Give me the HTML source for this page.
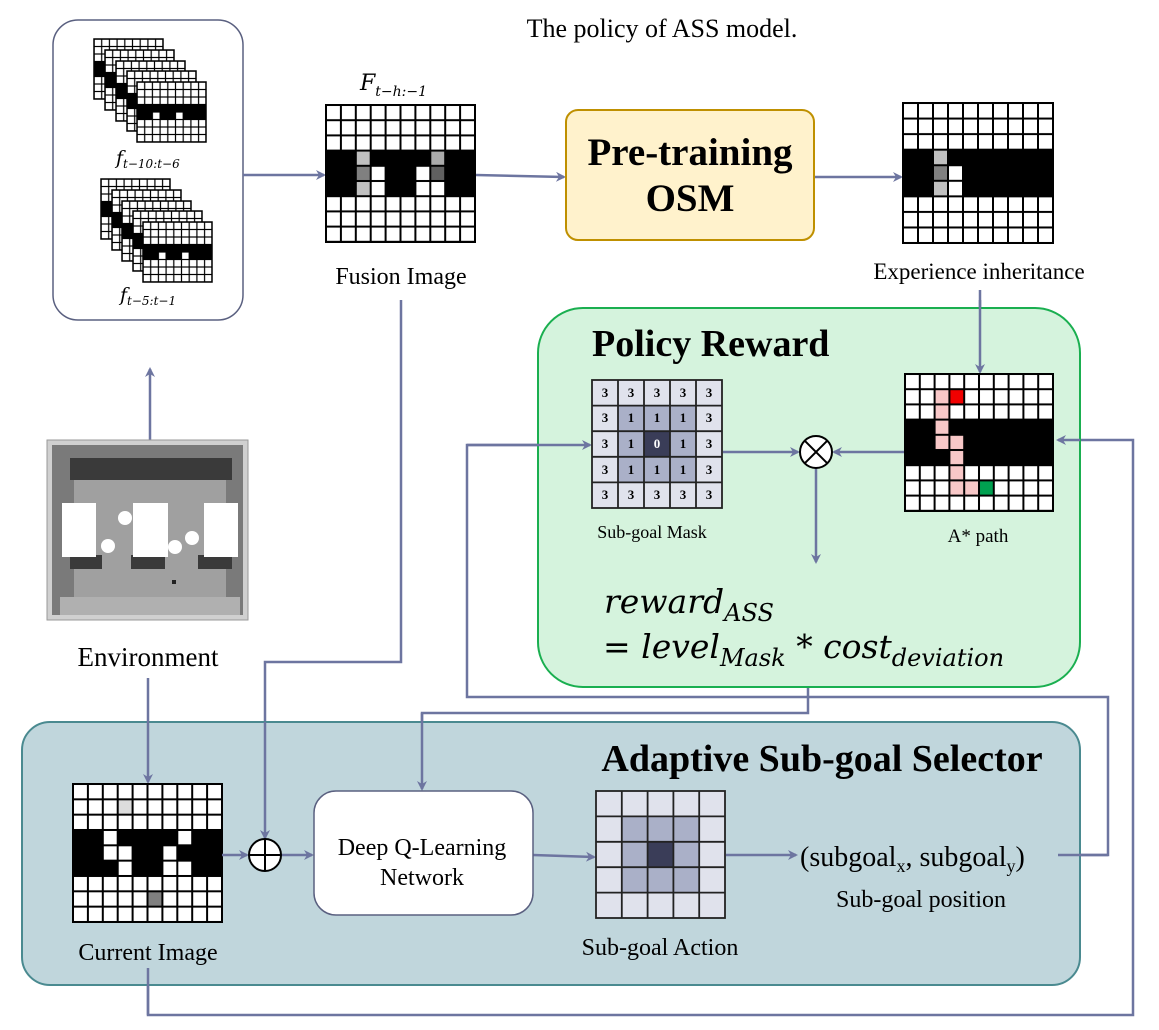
<!DOCTYPE html>
<html><head><meta charset="utf-8"><style>
body{margin:0;background:#fff;}
svg{display:block;}
.t{font-family:"Liberation Serif",serif;fill:#000;}
.m{font-family:"DejaVu Serif","Liberation Serif",serif;font-style:italic;fill:#000;}
</style></head><body>
<svg width="1159" height="1030" viewBox="0 0 1159 1030" xmlns="http://www.w3.org/2000/svg">
<defs>
<marker id="ar" markerWidth="10" markerHeight="10" refX="8" refY="5" orient="auto" markerUnits="userSpaceOnUse"><path d="M0,0 L10,5 L0,10 L3,5 z" fill="#6d75a0"/></marker>
<pattern id="pF" x="326" y="105" width="14.9" height="15.2" patternUnits="userSpaceOnUse"><rect width="14.9" height="15.2" fill="none" stroke="#000" stroke-width="2"/></pattern>
<pattern id="pE" x="903" y="103" width="15" height="15.56" patternUnits="userSpaceOnUse"><rect width="15" height="15.56" fill="none" stroke="#000" stroke-width="2"/></pattern>
<pattern id="pC" x="73" y="784" width="14.9" height="15.33" patternUnits="userSpaceOnUse"><rect width="14.9" height="15.33" fill="none" stroke="#000" stroke-width="2"/></pattern>
<pattern id="pA" x="905" y="374" width="14.8" height="15.2" patternUnits="userSpaceOnUse"><rect width="14.8" height="15.2" fill="none" stroke="#000" stroke-width="2"/></pattern>
<pattern id="pS" width="7.7" height="7.5" patternUnits="userSpaceOnUse"><rect width="7.7" height="7.5" fill="none" stroke="#000" stroke-width="1.2"/></pattern>
<g id="frame">
<rect x="0" y="0" width="69" height="60" fill="#fff"/>
<rect x="0" y="22" width="69" height="16" fill="#000"/>
<rect x="15.4" y="30" width="7.7" height="8" fill="#fff"/>
<rect x="38.5" y="30" width="7.7" height="8" fill="#fff"/>
<rect x="0" y="0" width="69" height="60" fill="url(#pS)"/>
<rect x="0" y="0" width="69" height="60" fill="none" stroke="#000" stroke-width="1.5"/>
</g>
</defs>

<text x="662" y="37" class="t" font-size="26" text-anchor="middle">The policy of  ASS model.</text>

<!-- left frames box -->
<rect x="53" y="20" width="190" height="300" rx="25" fill="#fff" stroke="#5a6080" stroke-width="1.5"/>
<use href="#frame" x="94" y="39"/>
<use href="#frame" x="105" y="50"/>
<use href="#frame" x="116" y="61"/>
<use href="#frame" x="127" y="71"/>
<use href="#frame" x="137" y="82"/>
<text x="116" y="164" class="m" font-size="19">f<tspan font-size="12" dy="4">t−10:t−6</tspan></text>
<use href="#frame" x="101" y="179"/>
<use href="#frame" x="112" y="190"/>
<use href="#frame" x="122" y="201"/>
<use href="#frame" x="133" y="211"/>
<use href="#frame" x="143" y="222"/>
<text x="120" y="301" class="m" font-size="19">f<tspan font-size="12" dy="4">t−5:t−1</tspan></text>

<!-- connectors -->
<g stroke="#6d75a0" stroke-width="2.5" fill="none">
<line x1="243" y1="175" x2="324" y2="175" marker-end="url(#ar)"/>
<line x1="476" y1="175" x2="564" y2="177" marker-end="url(#ar)"/>
<line x1="814" y1="177" x2="901" y2="177" marker-end="url(#ar)"/>
<line x1="980" y1="290" x2="980" y2="372" marker-end="url(#ar)"/>
<polyline points="1060,855 1108,855 1108,697 467,697 467,445 590,445" marker-end="url(#ar)"/>
<polyline points="148,968 148,1015 1133,1015 1133,440 1058,440" marker-end="url(#ar)"/>
<polyline points="808,687 808,713 422,713 422,789" marker-end="url(#ar)"/>
<polyline points="401,300 401,662 265,662 265,838" marker-end="url(#ar)"/>
<line x1="150" y1="440" x2="150" y2="369" marker-end="url(#ar)"/>
</g>

<!-- Fusion -->
<text x="360" y="90" class="m" font-size="22">F<tspan font-size="14" dy="6">t−h:−1</tspan></text>
<rect x="326" y="105" width="149" height="137" fill="#fff"/>
<rect x="326" y="150.6" width="149" height="45.6" fill="#000"/>
<rect x="355.8" y="150.6" width="14.9" height="15.2" fill="#c0c0c0"/>
<rect x="355.8" y="165.8" width="14.9" height="15.2" fill="#808080"/>
<rect x="355.8" y="181" width="14.9" height="15.2" fill="#c0c0c0"/>
<rect x="370.7" y="165.8" width="14.9" height="30.4" fill="#fff"/>
<rect x="415.4" y="165.8" width="14.9" height="30.4" fill="#fff"/>
<rect x="430.3" y="150.6" width="14.9" height="15.2" fill="#aaa"/>
<rect x="430.3" y="165.8" width="14.9" height="15.2" fill="#606060"/>
<rect x="430.3" y="181" width="14.9" height="15.2" fill="#fff"/>
<rect x="326" y="105" width="149" height="137" fill="url(#pF)" stroke="#000" stroke-width="2"/>
<text x="401" y="284" class="t" font-size="24" text-anchor="middle">Fusion Image</text>

<!-- OSM -->
<rect x="566" y="110" width="248" height="130" rx="12" fill="#fff2cc" stroke="#bf9000" stroke-width="2"/>
<text x="690" y="165" class="t" font-size="39" font-weight="bold" text-anchor="middle">Pre-training</text>
<text x="690" y="211" class="t" font-size="39" font-weight="bold" text-anchor="middle">OSM</text>

<!-- Experience -->
<rect x="903" y="103" width="150" height="140" fill="#fff"/>
<rect x="903" y="149.7" width="150" height="46.7" fill="#000"/>
<rect x="933" y="149.7" width="15" height="15.56" fill="#c0c0c0"/>
<rect x="933" y="165.3" width="15" height="15.56" fill="#808080"/>
<rect x="933" y="180.8" width="15" height="15.56" fill="#c0c0c0"/>
<rect x="948" y="165.3" width="15" height="31.1" fill="#fff"/>
<rect x="903" y="103" width="150" height="140" fill="url(#pE)" stroke="#000" stroke-width="2"/>
<text x="979" y="279" class="t" font-size="23" text-anchor="middle">Experience inheritance</text>

<!-- Policy Reward -->
<rect x="538" y="308" width="542" height="379" rx="45" fill="#d5f3dd" stroke="#1aaf50" stroke-width="2"/>
<line x1="980" y1="300" x2="980" y2="372" stroke="#6d75a0" stroke-width="2.5" marker-end="url(#ar)"/>
<text x="592" y="356" class="t" font-size="38" font-weight="bold">Policy Reward</text>
<line x1="467" y1="445" x2="590" y2="445" stroke="#6d75a0" stroke-width="2.5" marker-end="url(#ar)"/>
<line x1="723" y1="452" x2="798" y2="452" stroke="#6d75a0" stroke-width="2.5" marker-end="url(#ar)"/>
<line x1="905" y1="452" x2="834" y2="452" stroke="#6d75a0" stroke-width="2.5" marker-end="url(#ar)"/>
<line x1="816" y1="468" x2="816" y2="562" stroke="#6d75a0" stroke-width="2.5" marker-end="url(#ar)"/>
<line x1="1080" y1="440" x2="1058" y2="440" stroke="#6d75a0" stroke-width="2.5" marker-end="url(#ar)"/>

<!-- mask -->
<g font-family="Liberation Serif,serif" font-size="13" font-weight="bold" text-anchor="middle">
<rect x="592" y="380" width="130" height="128" fill="#e0e2ec"/>
<rect x="618" y="405.6" width="78" height="76.8" fill="#aab0c8"/>
<rect x="644" y="431.2" width="26" height="25.6" fill="#3a3d58"/>
<g stroke="#222" stroke-width="1.8" fill="none">
<rect x="592" y="380" width="130" height="128"/>
<line x1="618" y1="380" x2="618" y2="508"/><line x1="644" y1="380" x2="644" y2="508"/><line x1="670" y1="380" x2="670" y2="508"/><line x1="696" y1="380" x2="696" y2="508"/>
<line x1="592" y1="405.6" x2="722" y2="405.6"/><line x1="592" y1="431.2" x2="722" y2="431.2"/><line x1="592" y1="456.8" x2="722" y2="456.8"/><line x1="592" y1="482.4" x2="722" y2="482.4"/>
</g>
<text x="605" y="397">3</text><text x="631" y="397">3</text><text x="657" y="397">3</text><text x="683" y="397">3</text><text x="709" y="397">3</text>
<text x="605" y="422">3</text><text x="631" y="422">1</text><text x="657" y="422">1</text><text x="683" y="422">1</text><text x="709" y="422">3</text>
<text x="605" y="448">3</text><text x="631" y="448">1</text><text x="657" y="448" fill="#fff">0</text><text x="683" y="448">1</text><text x="709" y="448">3</text>
<text x="605" y="474">3</text><text x="631" y="474">1</text><text x="657" y="474">1</text><text x="683" y="474">1</text><text x="709" y="474">3</text>
<text x="605" y="499">3</text><text x="631" y="499">3</text><text x="657" y="499">3</text><text x="683" y="499">3</text><text x="709" y="499">3</text>
</g>
<text x="652" y="538" class="t" font-size="18" text-anchor="middle">Sub-goal Mask</text>

<!-- otimes -->
<circle cx="816" cy="452" r="16" fill="#fff" stroke="#000" stroke-width="2"/>
<line x1="804.7" y1="440.7" x2="827.3" y2="463.3" stroke="#000" stroke-width="2"/>
<line x1="827.3" y1="440.7" x2="804.7" y2="463.3" stroke="#000" stroke-width="2"/>

<!-- A* -->
<rect x="905" y="374" width="148" height="137" fill="#fff"/>
<rect x="905" y="419.6" width="148" height="45.6" fill="#000"/>
<g fill="#f8c8c8">
<rect x="934.6" y="389.2" width="14.8" height="60.8"/>
<rect x="949.4" y="434.8" width="14.8" height="60.8"/>
<rect x="964.2" y="480.4" width="14.8" height="15.2"/>
</g>
<rect x="949.4" y="389.2" width="14.8" height="15.2" fill="#f00000"/>
<rect x="979" y="480.4" width="14.8" height="15.2" fill="#00a050"/>
<rect x="905" y="374" width="148" height="137" fill="url(#pA)" stroke="#000" stroke-width="2"/>
<text x="978" y="542" class="t" font-size="19" text-anchor="middle">A* path</text>

<!-- formula -->
<text x="604" y="613" class="m" font-size="33">reward<tspan font-size="24" dy="8">ASS</tspan></text>
<text x="603" y="658" class="m" font-size="33"><tspan font-style="normal">= </tspan>level<tspan font-size="24" dy="8">Mask</tspan><tspan dy="-8"> * cost</tspan><tspan font-size="24" dy="8">deviation</tspan></text>

<!-- Environment -->
<rect x="47" y="440" width="201" height="180" fill="#d0d0d0" stroke="#999" stroke-width="1"/>
<rect x="52" y="445" width="191" height="170" fill="#7a7a7a"/>
<rect x="70" y="458" width="162" height="22" fill="#3a3a3a"/>
<rect x="74" y="480" width="152" height="120" fill="#a0a0a0"/>
<rect x="60" y="597" width="180" height="18" fill="#b0b0b0"/>
<rect x="70" y="555" width="32" height="14" fill="#3a3a3a"/>
<rect x="131" y="555" width="34" height="14" fill="#3a3a3a"/>
<rect x="198" y="555" width="34" height="14" fill="#3a3a3a"/>
<rect x="62" y="503" width="34" height="54" fill="#fff"/>
<rect x="133" y="503" width="35" height="54" fill="#fff"/>
<rect x="204" y="503" width="34" height="54" fill="#fff"/>
<circle cx="125" cy="518" r="7" fill="#fff"/>
<circle cx="108" cy="546" r="7" fill="#fff"/>
<circle cx="175" cy="547" r="7" fill="#fff"/>
<circle cx="192" cy="538" r="7" fill="#fff"/>
<rect x="172" y="580" width="4" height="4" fill="#222"/>
<text x="148" y="666" class="t" font-size="27" text-anchor="middle">Environment</text>

<!-- Adaptive box -->
<rect x="22" y="722" width="1058" height="263" rx="28" fill="#c0d6dc" stroke="#4a8a90" stroke-width="2"/>
<polyline points="422,713 422,789" stroke="#6d75a0" stroke-width="2.5" fill="none" marker-end="url(#ar)"/>
<polyline points="265,722 265,838" stroke="#6d75a0" stroke-width="2.5" fill="none" marker-end="url(#ar)"/>
<line x1="148" y1="678" x2="148" y2="782" stroke="#6d75a0" stroke-width="2.5" marker-end="url(#ar)"/>
<line x1="148" y1="968" x2="148" y2="1015" stroke="#6d75a0" stroke-width="2.5"/>
<line x1="1058" y1="855" x2="1108" y2="855" stroke="#6d75a0" stroke-width="2.5"/>
<text x="822" y="771" class="t" font-size="38" font-weight="bold" text-anchor="middle">Adaptive Sub-goal Selector</text>

<!-- Current image -->
<rect x="73" y="784" width="149" height="138" fill="#fff"/>
<rect x="117.7" y="799.3" width="14.9" height="15.33" fill="#ddd"/>
<rect x="73" y="830" width="149" height="46" fill="#000"/>
<g fill="#fff">
<rect x="102.8" y="830" width="14.9" height="30.7"/>
<rect x="177.3" y="830" width="14.9" height="15.33"/>
<rect x="117.7" y="845.3" width="14.9" height="30.7"/>
<rect x="162.4" y="845.3" width="14.9" height="30.7"/>
<rect x="177.3" y="860.7" width="14.9" height="15.33"/>
</g>
<rect x="147.5" y="891.3" width="14.9" height="15.33" fill="#808080"/>
<rect x="73" y="784" width="149" height="138" fill="url(#pC)" stroke="#000" stroke-width="2"/>
<text x="148" y="960" class="t" font-size="24" text-anchor="middle">Current Image</text>

<g stroke="#6d75a0" stroke-width="2.5" fill="none">
<line x1="222" y1="855" x2="247" y2="855" marker-end="url(#ar)"/>
<line x1="281" y1="855" x2="312" y2="855" marker-end="url(#ar)"/>
<line x1="533" y1="855" x2="594" y2="857" marker-end="url(#ar)"/>
<line x1="726" y1="855" x2="796" y2="855" marker-end="url(#ar)"/>
</g>
<circle cx="265" cy="855" r="16" fill="#fff" stroke="#000" stroke-width="2"/>
<line x1="249" y1="855" x2="281" y2="855" stroke="#000" stroke-width="2"/>
<line x1="265" y1="839" x2="265" y2="871" stroke="#000" stroke-width="2"/>

<rect x="314" y="791" width="219" height="124" rx="22" fill="#fff" stroke="#5a6080" stroke-width="1.5"/>
<text x="422" y="855" class="t" font-size="24" text-anchor="middle">Deep Q-Learning</text>
<text x="422" y="885" class="t" font-size="24" text-anchor="middle">Network</text>

<!-- action grid -->
<rect x="596" y="791" width="129" height="127" fill="#e0e2ec"/>
<rect x="621.8" y="816.4" width="77.4" height="76.2" fill="#aab0c8"/>
<rect x="647.6" y="841.8" width="25.8" height="25.4" fill="#3a3d58"/>
<g stroke="#222" stroke-width="1.8" fill="none">
<rect x="596" y="791" width="129" height="127"/>
<line x1="621.8" y1="791" x2="621.8" y2="918"/><line x1="647.6" y1="791" x2="647.6" y2="918"/><line x1="673.4" y1="791" x2="673.4" y2="918"/><line x1="699.2" y1="791" x2="699.2" y2="918"/>
<line x1="596" y1="816.4" x2="725" y2="816.4"/><line x1="596" y1="841.8" x2="725" y2="841.8"/><line x1="596" y1="867.2" x2="725" y2="867.2"/><line x1="596" y1="892.6" x2="725" y2="892.6"/>
</g>
<text x="660" y="955" class="t" font-size="24" text-anchor="middle">Sub-goal Action</text>

<text x="800" y="866" class="t" font-size="28">(subgoal<tspan font-size="18" dy="6">x</tspan><tspan dy="-6">, subgoal</tspan><tspan font-size="18" dy="6">y</tspan><tspan dy="-6">)</tspan></text>
<text x="921" y="907" class="t" font-size="24" text-anchor="middle">Sub-goal position</text>
</svg>
</body></html>
